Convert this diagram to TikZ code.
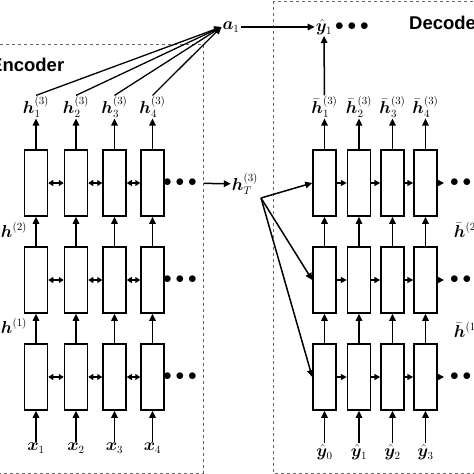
\documentclass[tikz,border=0pt]{standalone}
\usepackage{amsmath,bm}
\usepackage{fontspec}
\setsansfont{Liberation Sans}
\usetikzlibrary{arrows.meta}

\begin{document}
\begin{tikzpicture}[x=1pt,y=-1pt,>={Triangle[length=7pt,width=6.5pt]},
  cell/.style={draw,line width=1.5pt,minimum width=23pt,minimum height=66pt,inner sep=0pt},
  lbl/.style={inner sep=1pt,font=\fontsize{16}{18}\selectfont},
  dots/.style={inner sep=1pt,font=\fontsize{16}{18}\selectfont},
  title/.style={inner sep=0pt,font=\sffamily\bfseries\fontsize{18.5}{20}\selectfont},
  conn/.style={->,line width=1.5pt},
  dbl/.style={{Triangle[length=5pt,width=6pt]}-{Triangle[length=5pt,width=6pt]},line width=1.5pt},
  nxt/.style={-{Triangle[length=6pt,width=6pt]},line width=1.5pt},
  frame/.style={draw=black!60,dashed,line width=1pt}]
\useasboundingbox (0,0) rectangle (474,474);

% frames
\draw[frame] (-5,44) rectangle (203,473);
\draw[frame] (273,1) rectangle (480,473);
\node[title,anchor=base west] (enc) at (-10,71) {Encoder};
\node[title,anchor=base west] (dec) at (409,29) {Decoder};

% cells, inputs and top states
\foreach \i/\ex/\dx/\k in {1/36/324.5/0,2/76/359/1,3/114.5/392.5/2,4/152.5/425.5/3}{
  \foreach \l/\ly in {1/377,2/280,3/183}{
    \node[cell] (e\l\i) at (\ex,\ly) {};
    \node[cell] (d\l\i) at (\dx,\ly) {};
  }
  \node[lbl] (x\i) at (\ex,448) {$\bm{x}_{\i}$};
  \node[lbl] (yin\i) at (\dx,452) {$\hat{\bm{y}}_{\k}$};
  \node[lbl] (ht\i) at (\ex,107) {$\bm{h}^{(3)}_{\i}$};
  \node[lbl] (hb\i) at (\dx,107) {$\bar{\bm{h}}^{(3)}_{\i}$};
  \draw[conn] (x\i) -- (e1\i);
  \draw[conn] (yin\i) -- (d1\i);
  \draw[conn] (e1\i) -- (e2\i);
  \draw[conn] (e2\i) -- (e3\i);
  \draw[conn] (e3\i) -- (ht\i);
  \draw[conn] (d1\i) -- (d2\i);
  \draw[conn] (d2\i) -- (d3\i);
  \draw[conn] (d3\i) -- (hb\i);
}

% recurrent links
\foreach \l/\ly in {1/377,2/280,3/183}{
  \foreach \i/\j in {1/2,2/3,3/4}{
    \draw[dbl] (e\l\i) -- (e\l\j);
    \draw[nxt] (d\l\i) -- (d\l\j);
  }
  \node[dots] (ed\l) at (180,\ly) {$\bullet\bullet\bullet$};
  \node[dots] (dd\l) at (467,\ly) {$\bullet\bullet\bullet$};
  \draw[nxt,shorten >=5pt] (d\l4) -- (dd\l);
}

% layer labels
\node[lbl] (hs2) at (14,230) {$\bm{h}^{(2)}$};
\node[lbl] (hs1) at (14,326) {$\bm{h}^{(1)}$};
\node[lbl] (hbs2) at (467,230) {$\bar{\bm{h}}^{(2)}$};
\node[lbl] (hbs1) at (467,330) {$\bar{\bm{h}}^{(1)}$};

% attention and output
\node[lbl] (a1) at (231,27) {$\bm{a}_1$};
\node[lbl] (yh1) at (324,27) {$\hat{\bm{y}}_1$};
\node[dots] (yd) at (352,27) {$\bullet\bullet\bullet$};
\foreach \i in {1,...,4}
  \draw[conn,line width=1.3pt] (ht\i.north) -- (a1.west);
\draw[conn] (a1.east) -- (yh1.west);
\draw[conn] (hb1) -- (yh1);

% final encoder state to decoder
\node[lbl] (hT) at (245,184) {$\bm{h}^{(3)}_{T}$};
\coordinate (split) at (261,198);
\draw[conn,shorten <=6pt] (ed3) -- (hT);
\draw[conn] (split) -- (d31.west);
\draw[conn] (split) -- (d21.west);
\draw[conn] (split) -- (d11.west);
\end{tikzpicture}
\end{document}
